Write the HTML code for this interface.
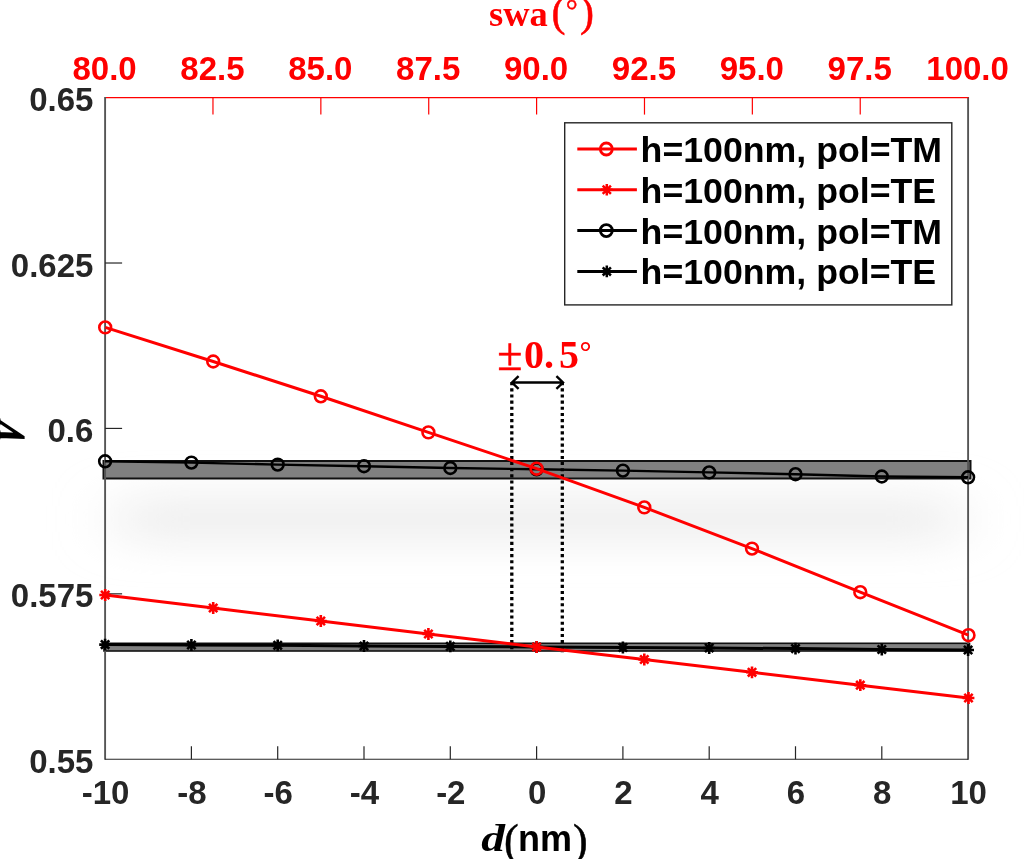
<!DOCTYPE html><html><head><meta charset="utf-8"><title>plot</title>
<style>html,body{margin:0;padding:0;background:#fff;overflow:hidden}svg{display:block}text{font-family:"Liberation Sans",sans-serif;font-weight:bold}.ser{font-family:"Liberation Serif",serif;font-weight:bold}.par{font-family:"Liberation Serif",serif;font-weight:normal}</style></head><body>
<svg width="1026" height="859" viewBox="0 0 1026 859">
<defs><filter id="bl" x="-20%" y="-400%" width="140%" height="900%"><feGaussianBlur stdDeviation="30 22"/></filter></defs>
<rect width="1026" height="859" fill="#fff"/>
<rect x="118" y="502" width="840" height="34" fill="#e9e9e9" filter="url(#bl)"/>
<rect x="103.5" y="461" width="867.0" height="17.5" fill="#808080" stroke="#111" stroke-width="2"/>
<rect x="104" y="643.3" width="865.5" height="7.7" fill="#808080" stroke="#111" stroke-width="1.6"/>
<line x1="105.1" y1="97.1" x2="105.1" y2="759.85" stroke="#555" stroke-width="1.9"/>
<line x1="968.1" y1="97.1" x2="968.1" y2="759.85" stroke="#555" stroke-width="1.9"/>
<line x1="105.1" y1="759.25" x2="968.1" y2="759.25" stroke="#262626" stroke-width="1.2"/>
<line x1="106.0" y1="97.6" x2="968.4" y2="97.6" stroke="#ff0000" stroke-width="1.1"/>
<text x="105.60" y="804" font-size="33" fill="#262626" text-anchor="middle">-10</text>
<line x1="191.40" y1="759.25" x2="191.40" y2="746.25" stroke="#262626" stroke-width="1.2"/>
<text x="191.90" y="804" font-size="33" fill="#262626" text-anchor="middle">-8</text>
<line x1="277.70" y1="759.25" x2="277.70" y2="746.25" stroke="#262626" stroke-width="1.2"/>
<text x="278.20" y="804" font-size="33" fill="#262626" text-anchor="middle">-6</text>
<line x1="364.00" y1="759.25" x2="364.00" y2="746.25" stroke="#262626" stroke-width="1.2"/>
<text x="364.50" y="804" font-size="33" fill="#262626" text-anchor="middle">-4</text>
<line x1="450.30" y1="759.25" x2="450.30" y2="746.25" stroke="#262626" stroke-width="1.2"/>
<text x="450.80" y="804" font-size="33" fill="#262626" text-anchor="middle">-2</text>
<line x1="536.60" y1="759.25" x2="536.60" y2="746.25" stroke="#262626" stroke-width="1.2"/>
<text x="537.10" y="804" font-size="33" fill="#262626" text-anchor="middle">0</text>
<line x1="622.90" y1="759.25" x2="622.90" y2="746.25" stroke="#262626" stroke-width="1.2"/>
<text x="623.40" y="804" font-size="33" fill="#262626" text-anchor="middle">2</text>
<line x1="709.20" y1="759.25" x2="709.20" y2="746.25" stroke="#262626" stroke-width="1.2"/>
<text x="709.70" y="804" font-size="33" fill="#262626" text-anchor="middle">4</text>
<line x1="795.50" y1="759.25" x2="795.50" y2="746.25" stroke="#262626" stroke-width="1.2"/>
<text x="796.00" y="804" font-size="33" fill="#262626" text-anchor="middle">6</text>
<line x1="881.80" y1="759.25" x2="881.80" y2="746.25" stroke="#262626" stroke-width="1.2"/>
<text x="882.30" y="804" font-size="33" fill="#262626" text-anchor="middle">8</text>
<text x="968.60" y="804" font-size="33" fill="#262626" text-anchor="middle">10</text>
<text x="104.60" y="79.6" font-size="33" fill="#ff0000" text-anchor="middle">80.0</text>
<line x1="212.97" y1="97.6" x2="212.97" y2="114.6" stroke="#ff0000" stroke-width="1.2"/>
<text x="212.47" y="79.6" font-size="33" fill="#ff0000" text-anchor="middle">82.5</text>
<line x1="320.85" y1="97.6" x2="320.85" y2="114.6" stroke="#ff0000" stroke-width="1.2"/>
<text x="320.35" y="79.6" font-size="33" fill="#ff0000" text-anchor="middle">85.0</text>
<line x1="428.73" y1="97.6" x2="428.73" y2="114.6" stroke="#ff0000" stroke-width="1.2"/>
<text x="428.23" y="79.6" font-size="33" fill="#ff0000" text-anchor="middle">87.5</text>
<line x1="536.60" y1="97.6" x2="536.60" y2="114.6" stroke="#ff0000" stroke-width="1.2"/>
<text x="536.10" y="79.6" font-size="33" fill="#ff0000" text-anchor="middle">90.0</text>
<line x1="644.48" y1="97.6" x2="644.48" y2="114.6" stroke="#ff0000" stroke-width="1.2"/>
<text x="643.98" y="79.6" font-size="33" fill="#ff0000" text-anchor="middle">92.5</text>
<line x1="752.35" y1="97.6" x2="752.35" y2="114.6" stroke="#ff0000" stroke-width="1.2"/>
<text x="751.85" y="79.6" font-size="33" fill="#ff0000" text-anchor="middle">95.0</text>
<line x1="860.23" y1="97.6" x2="860.23" y2="114.6" stroke="#ff0000" stroke-width="1.2"/>
<text x="859.73" y="79.6" font-size="33" fill="#ff0000" text-anchor="middle">97.5</text>
<text x="967.60" y="79.6" font-size="33" fill="#ff0000" text-anchor="middle">100.0</text>
<text x="93.4" y="111.20" font-size="33" fill="#262626" text-anchor="end">0.65</text>
<line x1="105.1" y1="263.01" x2="122.1" y2="263.01" stroke="#262626" stroke-width="1.2"/>
<text x="93.4" y="276.61" font-size="33" fill="#262626" text-anchor="end">0.625</text>
<line x1="105.1" y1="428.43" x2="122.1" y2="428.43" stroke="#262626" stroke-width="1.2"/>
<text x="93.4" y="442.03" font-size="33" fill="#262626" text-anchor="end">0.6</text>
<line x1="105.1" y1="593.84" x2="122.1" y2="593.84" stroke="#262626" stroke-width="1.2"/>
<text x="93.4" y="607.44" font-size="33" fill="#262626" text-anchor="end">0.575</text>
<text x="93.4" y="772.85" font-size="33" fill="#262626" text-anchor="end">0.55</text>
<polyline fill="none" stroke="#000" stroke-width="2.4" stroke-linejoin="round" points="105.1,461.3 191.4,462.6 277.7,464.6 364.0,466.2 450.3,468.0 536.6,469.3 622.9,470.6 709.2,472.4 795.5,474.2 881.8,476.5 968.1,477.3"/>
<circle cx="105.1" cy="461.3" r="5.9" fill="none" stroke="#000" stroke-width="2.6"/>
<circle cx="191.4" cy="462.6" r="5.9" fill="none" stroke="#000" stroke-width="2.6"/>
<circle cx="277.7" cy="464.6" r="5.9" fill="none" stroke="#000" stroke-width="2.6"/>
<circle cx="364.0" cy="466.2" r="5.9" fill="none" stroke="#000" stroke-width="2.6"/>
<circle cx="450.3" cy="468.0" r="5.9" fill="none" stroke="#000" stroke-width="2.6"/>
<circle cx="536.6" cy="469.3" r="5.9" fill="none" stroke="#000" stroke-width="2.6"/>
<circle cx="622.9" cy="470.6" r="5.9" fill="none" stroke="#000" stroke-width="2.6"/>
<circle cx="709.2" cy="472.4" r="5.9" fill="none" stroke="#000" stroke-width="2.6"/>
<circle cx="795.5" cy="474.2" r="5.9" fill="none" stroke="#000" stroke-width="2.6"/>
<circle cx="881.8" cy="476.5" r="5.9" fill="none" stroke="#000" stroke-width="2.6"/>
<circle cx="968.1" cy="477.3" r="5.9" fill="none" stroke="#000" stroke-width="2.6"/>
<polyline fill="none" stroke="#000" stroke-width="3" stroke-linejoin="round" points="105.1,644.6 191.4,645.0 277.7,645.3 364.0,646.0 450.3,646.4 536.6,647.0 622.9,647.5 709.2,648.0 795.5,648.6 881.8,649.5 968.1,650.0"/>
<path d="M99.20,644.60L111.00,644.60M100.93,640.43L109.27,648.77M105.10,638.70L105.10,650.50M109.27,640.43L100.93,648.77" stroke="#000" stroke-width="2.6" fill="none"/>
<path d="M185.50,645.00L197.30,645.00M187.23,640.83L195.57,649.17M191.40,639.10L191.40,650.90M195.57,640.83L187.23,649.17" stroke="#000" stroke-width="2.6" fill="none"/>
<path d="M271.80,645.30L283.60,645.30M273.53,641.13L281.87,649.47M277.70,639.40L277.70,651.20M281.87,641.13L273.53,649.47" stroke="#000" stroke-width="2.6" fill="none"/>
<path d="M358.10,646.00L369.90,646.00M359.83,641.83L368.17,650.17M364.00,640.10L364.00,651.90M368.17,641.83L359.83,650.17" stroke="#000" stroke-width="2.6" fill="none"/>
<path d="M444.40,646.40L456.20,646.40M446.13,642.23L454.47,650.57M450.30,640.50L450.30,652.30M454.47,642.23L446.13,650.57" stroke="#000" stroke-width="2.6" fill="none"/>
<path d="M530.70,647.00L542.50,647.00M532.43,642.83L540.77,651.17M536.60,641.10L536.60,652.90M540.77,642.83L532.43,651.17" stroke="#000" stroke-width="2.6" fill="none"/>
<path d="M617.00,647.50L628.80,647.50M618.73,643.33L627.07,651.67M622.90,641.60L622.90,653.40M627.07,643.33L618.73,651.67" stroke="#000" stroke-width="2.6" fill="none"/>
<path d="M703.30,648.00L715.10,648.00M705.03,643.83L713.37,652.17M709.20,642.10L709.20,653.90M713.37,643.83L705.03,652.17" stroke="#000" stroke-width="2.6" fill="none"/>
<path d="M789.60,648.60L801.40,648.60M791.33,644.43L799.67,652.77M795.50,642.70L795.50,654.50M799.67,644.43L791.33,652.77" stroke="#000" stroke-width="2.6" fill="none"/>
<path d="M875.90,649.50L887.70,649.50M877.63,645.33L885.97,653.67M881.80,643.60L881.80,655.40M885.97,645.33L877.63,653.67" stroke="#000" stroke-width="2.6" fill="none"/>
<path d="M962.20,650.00L974.00,650.00M963.93,645.83L972.27,654.17M968.10,644.10L968.10,655.90M972.27,645.83L963.93,654.17" stroke="#000" stroke-width="2.6" fill="none"/>
<line x1="511.8" y1="382.2" x2="511.8" y2="651.8" stroke="#000" stroke-width="3.3" stroke-dasharray="3.1,3.04"/>
<line x1="562.3" y1="382.2" x2="562.3" y2="652.4" stroke="#000" stroke-width="3.3" stroke-dasharray="3.1,3.04"/>
<polyline fill="none" stroke="#ff0000" stroke-width="3" stroke-linejoin="round" points="105.2,327.4 213.2,361.5 320.8,396.3 428.4,432.4 536.6,468.7 644.3,507.4 752.0,548.6 860.3,592.2 968.5,635.2"/>
<circle cx="105.2" cy="327.4" r="5.9" fill="none" stroke="#ff0000" stroke-width="2.6"/>
<circle cx="213.2" cy="361.5" r="5.9" fill="none" stroke="#ff0000" stroke-width="2.6"/>
<circle cx="320.8" cy="396.3" r="5.9" fill="none" stroke="#ff0000" stroke-width="2.6"/>
<circle cx="428.4" cy="432.4" r="5.9" fill="none" stroke="#ff0000" stroke-width="2.6"/>
<circle cx="536.6" cy="468.7" r="5.9" fill="none" stroke="#ff0000" stroke-width="2.6"/>
<circle cx="644.3" cy="507.4" r="5.9" fill="none" stroke="#ff0000" stroke-width="2.6"/>
<circle cx="752.0" cy="548.6" r="5.9" fill="none" stroke="#ff0000" stroke-width="2.6"/>
<circle cx="860.3" cy="592.2" r="5.9" fill="none" stroke="#ff0000" stroke-width="2.6"/>
<circle cx="968.5" cy="635.2" r="5.9" fill="none" stroke="#ff0000" stroke-width="2.6"/>
<polyline fill="none" stroke="#ff0000" stroke-width="3" stroke-linejoin="round" points="105.2,595.0 213.2,608.0 320.8,621.0 428.4,634.0 536.6,647.0 644.3,659.5 752.0,672.3 860.3,685.2 968.5,698.0"/>
<path d="M99.30,595.00L111.10,595.00M101.03,590.83L109.37,599.17M105.20,589.10L105.20,600.90M109.37,590.83L101.03,599.17" stroke="#ff0000" stroke-width="2.6" fill="none"/>
<path d="M207.30,608.00L219.10,608.00M209.03,603.83L217.37,612.17M213.20,602.10L213.20,613.90M217.37,603.83L209.03,612.17" stroke="#ff0000" stroke-width="2.6" fill="none"/>
<path d="M314.90,621.00L326.70,621.00M316.63,616.83L324.97,625.17M320.80,615.10L320.80,626.90M324.97,616.83L316.63,625.17" stroke="#ff0000" stroke-width="2.6" fill="none"/>
<path d="M422.50,634.00L434.30,634.00M424.23,629.83L432.57,638.17M428.40,628.10L428.40,639.90M432.57,629.83L424.23,638.17" stroke="#ff0000" stroke-width="2.6" fill="none"/>
<path d="M530.70,647.00L542.50,647.00M532.43,642.83L540.77,651.17M536.60,641.10L536.60,652.90M540.77,642.83L532.43,651.17" stroke="#ff0000" stroke-width="2.6" fill="none"/>
<path d="M638.40,659.50L650.20,659.50M640.13,655.33L648.47,663.67M644.30,653.60L644.30,665.40M648.47,655.33L640.13,663.67" stroke="#ff0000" stroke-width="2.6" fill="none"/>
<path d="M746.10,672.30L757.90,672.30M747.83,668.13L756.17,676.47M752.00,666.40L752.00,678.20M756.17,668.13L747.83,676.47" stroke="#ff0000" stroke-width="2.6" fill="none"/>
<path d="M854.40,685.20L866.20,685.20M856.13,681.03L864.47,689.37M860.30,679.30L860.30,691.10M864.47,681.03L856.13,689.37" stroke="#ff0000" stroke-width="2.6" fill="none"/>
<path d="M962.60,698.00L974.40,698.00M964.33,693.83L972.67,702.17M968.50,692.10L968.50,703.90M972.67,693.83L964.33,702.17" stroke="#ff0000" stroke-width="2.6" fill="none"/>
<path d="M512,382.5H562.5M518.6,376.2L512,382.5L518.6,388.8M556.4,376.2L563,382.5L556.4,388.8" stroke="#000" stroke-width="2.4" fill="none"/>
<text class="par" x="497.3" y="370.3" font-size="46" fill="#ff0000" stroke="#ff0000" stroke-width="0.5">±</text>
<text class="ser" x="524" y="368" font-size="40" fill="#ff0000">0.</text>
<text class="ser" x="559" y="368" font-size="40" fill="#ff0000">5</text>
<text class="ser" x="579.5" y="361.5" font-size="30" fill="#ff0000">°</text>
<rect x="564.7" y="122.8" width="387.0999999999999" height="182.09999999999997" fill="#fff" stroke="#262626" stroke-width="1.4"/>
<line x1="577.3" y1="149" x2="636.9" y2="149" stroke="#ff0000" stroke-width="3"/>
<circle cx="606.3" cy="149" r="6" fill="none" stroke="#ff0000" stroke-width="2.8"/>
<text x="640.6" y="162.0" font-size="35.7" fill="#000">h=100nm, pol=TM</text>
<line x1="577.3" y1="189.7" x2="636.9" y2="189.7" stroke="#ff0000" stroke-width="3"/>
<path d="M601.00,189.70L612.60,189.70M602.70,185.60L610.90,193.80M606.80,183.90L606.80,195.50M610.90,185.60L602.70,193.80" stroke="#ff0000" stroke-width="2.5" fill="none"/>
<text x="640.6" y="202.7" font-size="35.7" fill="#000">h=100nm, pol=TE</text>
<line x1="577.3" y1="230.6" x2="636.9" y2="230.6" stroke="#000" stroke-width="3"/>
<circle cx="606.3" cy="230.6" r="6" fill="none" stroke="#000" stroke-width="2.8"/>
<text x="640.6" y="243.6" font-size="35.7" fill="#000">h=100nm, pol=TM</text>
<line x1="577.3" y1="271.4" x2="636.9" y2="271.4" stroke="#000" stroke-width="3"/>
<path d="M601.00,271.40L612.60,271.40M602.70,267.30L610.90,275.50M606.80,265.60L606.80,277.20M610.90,267.30L602.70,275.50" stroke="#000" stroke-width="2.5" fill="none"/>
<text x="640.6" y="284.4" font-size="35.7" fill="#000">h=100nm, pol=TE</text>
<text class="ser" x="489" y="26.3" font-size="36.5" fill="#ff0000">swa</text>
<text class="par" x="551.6" y="26" font-size="42" fill="#ff0000" stroke="#ff0000" stroke-width="0.5">(</text>
<text class="par" x="580.1" y="26" font-size="42" fill="#ff0000" stroke="#ff0000" stroke-width="0.5">)</text>
<text class="par" x="565.8" y="20.4" font-size="30" fill="#ff0000" stroke="#ff0000" stroke-width="0.4">°</text>
<text class="ser" font-style="italic" font-size="38" fill="#000" transform="translate(481.2,850.6) scale(1.25,1)">d</text>
<text class="par" x="504" y="855" font-size="44" fill="#000" stroke="#000" stroke-width="0.5">(</text>
<text x="518" y="850.6" font-size="36" fill="#000">nm</text>
<text class="par" x="573" y="855" font-size="44" fill="#000" stroke="#000" stroke-width="0.5">)</text>
<text class="ser" font-style="italic" font-size="40" fill="#000" stroke="#000" stroke-width="2.2" stroke-linejoin="miter" transform="matrix(0.96,0.221,0,0.75,-1,109.5) translate(25,441) rotate(-90)">V</text>
</svg></body></html>
